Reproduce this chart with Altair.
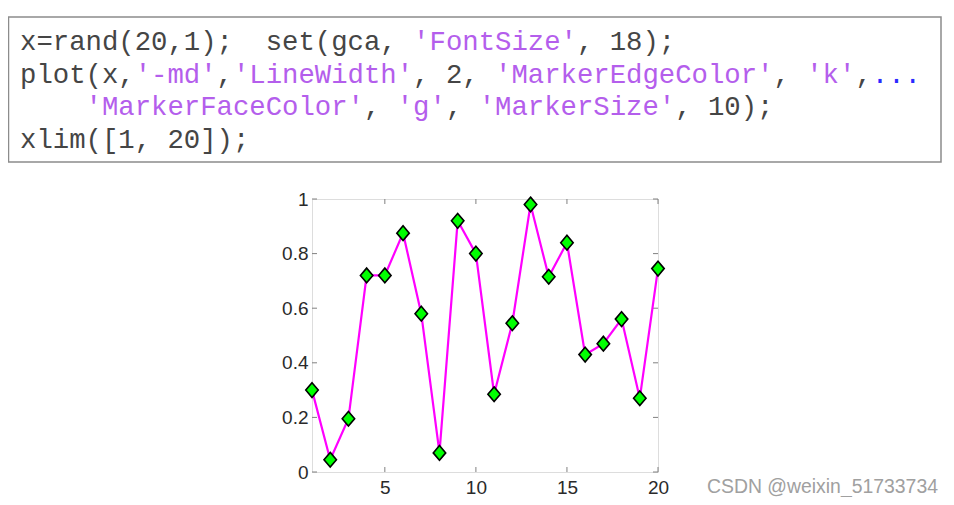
import re
import altair as alt
import pandas as pd

# ---------------- data ----------------
x_index = list(range(1, 21))
y_values = [0.30, 0.045, 0.195, 0.72, 0.72, 0.875, 0.58, 0.07, 0.92, 0.80,
            0.285, 0.545, 0.98, 0.715, 0.84, 0.43, 0.47, 0.56, 0.27, 0.745]
x_ticks = [5, 10, 15, 20]
y_ticks = [0, 0.2, 0.4, 0.6, 0.8, 1]

code_lines = [
    [("x=rand(20,1);  set(gca, ", "plain"), ("'FontSize'", "string"), (", 18);", "plain")],
    [("plot(x,", "plain"), ("'-md'", "string"), (",", "plain"), ("'LineWidth'", "string"),
     (", 2, ", "plain"), ("'MarkerEdgeColor'", "string"), (", ", "plain"), ("'k'", "string"),
     (",", "plain"), ("...", "cont")],
    [("    ", "plain"), ("'MarkerFaceColor'", "string"), (", ", "plain"), ("'g'", "string"),
     (", ", "plain"), ("'MarkerSize'", "string"), (", 10);", "plain")],
    [("xlim([1, 20]);", "plain")],
]
code_kinds = ["plain", "string", "cont"]
code_colors = ["#454545", "#B45EEC", "#2a2aff"]
watermark = "CSDN @weixin_51733734"

# ---------------- layout constants ----------------
W, H = 346, 273
CHAR_W = 16.38
CODE_FONT = 27.3
CODE_X0 = -292
LINE_Y0 = -157
LINE_DY = 32.7

rows = []
for i, segs in enumerate(code_lines):
    col = 0
    for text, kind in segs:
        for m in re.finditer(r"\S+(?: \S+)*", text):
            rows.append({"line": i, "col": col + m.start(), "text": m.group(), "kind": kind})
        col += len(text)
code_df = pd.DataFrame(rows)

series = pd.DataFrame({"x": x_index, "y": y_values})

x_axis = alt.Axis(values=x_ticks, title=None, domain=False, ticks=False, tickSize=0,
                  grid=False, labelFont="Liberation Sans", labelFontSize=19,
                  labelColor="#2a2a2a", labelPadding=6, format="~g",
                  labelFlush=False, labelOverlap=False)
y_axis = alt.Axis(values=y_ticks, title=None, domain=False, ticks=False, tickSize=0,
                  grid=False, labelFont="Liberation Sans", labelFontSize=19,
                  labelColor="#2a2a2a", labelPadding=4, format="~g",
                  labelFlush=False, labelOverlap=False)
x_scale = alt.Scale(domain=[1, 20], nice=False, zero=False)
y_scale = alt.Scale(domain=[0, 1], nice=False)

X = alt.X("x:Q", scale=x_scale, axis=x_axis)
Y = alt.Y("y:Q", scale=y_scale, axis=y_axis)

line = alt.Chart(series).mark_line(color="#FF00FF", strokeWidth=2.2).encode(x=X, y=Y)
points = alt.Chart(series).mark_point(
    shape="M0,-1L0.85,0L0,1L-0.85,0Z", filled=True, fill="#00FF00", stroke="black",
    strokeWidth=1.6, size=215, opacity=1
).encode(x=X, y=Y)

xt = pd.DataFrame({"x": x_ticks})
yt = pd.DataFrame({"y": y_ticks})
tick_col = "#808080"
xtick_bottom = alt.Chart(xt).mark_rule(color=tick_col).encode(x=X, y=alt.value(H), y2=alt.value(H - 5))
xtick_top = alt.Chart(xt).mark_rule(color=tick_col).encode(x=X, y=alt.value(0), y2=alt.value(5))
ytick_left = alt.Chart(yt).mark_rule(color=tick_col).encode(y=Y, x=alt.value(0), x2=alt.value(5))
ytick_right = alt.Chart(yt).mark_rule(color=tick_col).encode(y=Y, x=alt.value(W), x2=alt.value(W - 5))

plot = alt.layer(xtick_bottom, xtick_top, ytick_left, ytick_right, line, points)

one = pd.DataFrame({"a": [0]})
box = alt.Chart(one).mark_rect(fill="white", stroke="#8c8c8c", strokeWidth=1.5).encode(
    x=alt.value(-303.5), x2=alt.value(629), y=alt.value(-182), y2=alt.value(-37)
)

code_text = alt.Chart(code_df).transform_calculate(
    px=f"{CODE_X0} + datum.col * {CHAR_W}",
    py=f"{LINE_Y0} + datum.line * {LINE_DY}",
).mark_text(align="left", baseline="middle", font="Liberation Mono", fontSize=CODE_FONT).encode(
    x=alt.X("px:Q", scale=None, axis=None),
    y=alt.Y("py:Q", scale=None, axis=None),
    text="text:N",
    color=alt.Color("kind:N", scale=alt.Scale(domain=code_kinds, range=code_colors), legend=None),
)

wm = alt.Chart(pd.DataFrame({"t": [watermark]})).mark_text(
    align="left", baseline="middle", font="Liberation Sans", fontSize=19.4, color="#a0a0a0"
).encode(text="t:N", x=alt.value(395), y=alt.value(288))

chart = alt.layer(box, code_text, wm, plot).resolve_scale(
    x="independent", y="independent", color="independent"
).properties(
    width=W, height=H,
    autosize="none",
    padding={"left": 304, "top": 191, "right": 288, "bottom": 25},
).configure_view(stroke="#8a8a8a", strokeWidth=1.2).configure(background="white")

chart.save("out.html", embed_options={"renderer": "svg", "actions": False})
